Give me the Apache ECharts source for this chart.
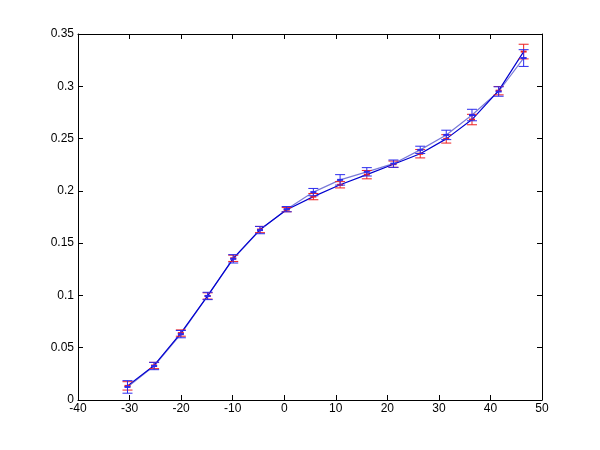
<!DOCTYPE html>
<html>
<head>
<meta charset="utf-8">
<script src="https://cdn.jsdelivr.net/npm/echarts@6/dist/echarts.min.js"></script>
<style>html,body{margin:0;padding:0;background:#fff;}#c{width:600px;height:450px;}</style>
</head>
<body>
<div id="c"></div>
<script>
var xValues = [-30.4, -25.24, -20.05, -14.86, -9.89, -4.70, 0.48, 5.65, 10.84, 16.02, 21.19, 26.38, 31.43, 36.42, 41.59, 46.44];
var seriesA = [0.0135, 0.0330, 0.0640, 0.0995, 0.1355, 0.1630, 0.1820, 0.1945, 0.2058, 0.2155, 0.2255, 0.2355, 0.2497, 0.2682, 0.2958, 0.3332];
var errA    = [0.004, 0.003, 0.003, 0.003, 0.003, 0.003, 0.002, 0.003, 0.003, 0.004, 0.003, 0.004, 0.004, 0.005, 0.004, 0.007];
var seriesB = [0.0125, 0.0325, 0.0630, 0.0995, 0.1350, 0.1625, 0.1825, 0.1988, 0.2105, 0.2182, 0.2260, 0.2392, 0.2535, 0.2725, 0.2950, 0.3270];
var errB    = [0.006, 0.0035, 0.0035, 0.0035, 0.004, 0.0035, 0.0025, 0.0035, 0.005, 0.004, 0.0035, 0.0035, 0.0045, 0.0055, 0.0045, 0.008];
var xTicks = {min: -40, max: 50, step: 10};
var yTicks = {min: 0, max: 0.35, step: 0.05};

function pairs(ys) { return xValues.map(function (x, i) { return [x, ys[i]]; }); }
function triples(ys, es) { return xValues.map(function (x, i) { return [x, ys[i], es[i]]; }); }

function errRender(color) {
  return function (params, api) {
    var x = api.value(0), y = api.value(1), e = api.value(2);
    var lo = api.coord([x, y - e]);
    var hi = api.coord([x, y + e]);
    var mid = api.coord([x, y]);
    var w = 5;
    var st = {stroke: color, lineWidth: 1};
    return {
      type: 'group',
      children: [
        {type: 'line', shape: {x1: lo[0], y1: lo[1], x2: hi[0], y2: hi[1]}, style: st},
        {type: 'line', shape: {x1: lo[0] - w, y1: lo[1], x2: lo[0] + w, y2: lo[1]}, style: st},
        {type: 'line', shape: {x1: hi[0] - w, y1: hi[1], x2: hi[0] + w, y2: hi[1]}, style: st},
        {type: 'line', shape: {x1: mid[0] - 3, y1: mid[1], x2: mid[0] + 3, y2: mid[1]}, style: {stroke: color, lineWidth: 2}}
      ]
    };
  };
}

var axisFont = {color: '#000', fontFamily: 'Liberation Sans, Arial, sans-serif', fontSize: 12};
var chart = echarts.init(document.getElementById('c'), null, {renderer: 'canvas'});
chart.setOption({
  backgroundColor: '#fff',
  animation: false,
  grid: {left: 78, right: 58, top: 34, bottom: 50, containLabel: false},
  xAxis: [
    {type: 'value', position: 'bottom', min: xTicks.min, max: xTicks.max, interval: xTicks.step,
     axisLine: {onZero: false, lineStyle: {color: '#000', width: 1}},
     axisTick: {inside: true, length: 5, lineStyle: {color: '#000'}},
     axisLabel: Object.assign({margin: 3}, axisFont),
     splitLine: {show: false}},
    {type: 'value', position: 'top', min: xTicks.min, max: xTicks.max, interval: xTicks.step,
     axisLine: {onZero: false, lineStyle: {color: '#000', width: 1}},
     axisTick: {inside: true, length: 5, lineStyle: {color: '#000'}},
     axisLabel: {show: false}, splitLine: {show: false}}
  ],
  yAxis: [
    {type: 'value', position: 'left', min: yTicks.min, max: yTicks.max, interval: yTicks.step,
     axisLine: {onZero: false, lineStyle: {color: '#000', width: 1}},
     axisTick: {inside: true, length: 5, lineStyle: {color: '#000'}},
     axisLabel: Object.assign({margin: 4}, axisFont),
     splitLine: {show: false}},
    {type: 'value', position: 'right', min: yTicks.min, max: yTicks.max, interval: yTicks.step,
     axisLine: {onZero: false, lineStyle: {color: '#000', width: 1}},
     axisTick: {inside: true, length: 5, lineStyle: {color: '#000'}},
     axisLabel: {show: false}, splitLine: {show: false}}
  ],
  series: [
    {type: 'line', data: pairs(seriesB), showSymbol: false, lineStyle: {color: '#7a7ad8', width: 1.2}, z: 2},
    {type: 'line', data: pairs(seriesA), showSymbol: false, lineStyle: {color: '#0000d0', width: 1.2}, z: 3},
    {type: 'custom', data: triples(seriesA, errA), renderItem: errRender('#ee2020'), encode: {x: 0, y: 1}, z: 4},
    {type: 'custom', data: triples(seriesB, errB), renderItem: errRender('#2a2aee'), encode: {x: 0, y: 1}, z: 5}
  ]
});
</script>
</body>
</html>
